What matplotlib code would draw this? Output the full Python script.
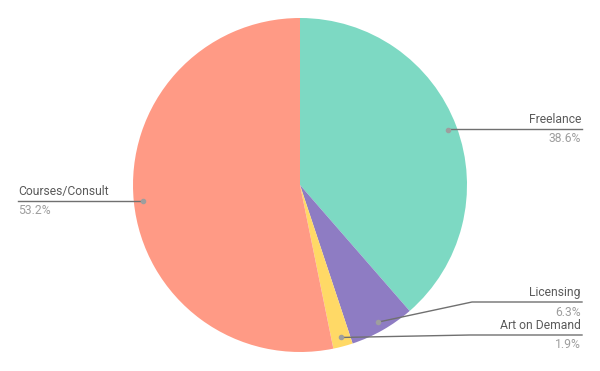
import numpy as np
import matplotlib.pyplot as plt

labels = ['Freelance', 'Licensing', 'Art on Demand', 'Courses/Consult']
values = [38.6, 6.3, 1.9, 53.2]
colors = ['#7dd9c3', '#8e7cc3', '#ffd966', '#ff9a85']

W, H = 600, 371
cx, cy, r = 300, H - 185, 167

fig = plt.figure(figsize=(6, 3.71), dpi=100)
ax = fig.add_axes([0, 0, 1, 1])
ax.pie(values, colors=colors, startangle=90, counterclock=False,
       center=(cx, cy), radius=r, frame=True,
       wedgeprops=dict(linewidth=0))
ax.set_xlim(0, W)
ax.set_ylim(0, H)
ax.set_aspect('equal')
ax.axis('off')

# label layout: (text x, line y, elbow x, alignment)
layout = {
    'Freelance': (581, H - 129, None, 'right'),
    'Licensing': (581, H - 302, 472, 'right'),
    'Art on Demand': (581, H - 335, 470, 'right'),
    'Courses/Consult': (18, H - 201, None, 'left'),
}

total = sum(values)
cum = 0
for lab, v in zip(labels, values):
    mid = (cum + v / 2) / total * 360
    cum += v
    ang = np.deg2rad(90 - mid)
    px = cx + 0.945 * r * np.cos(ang)
    py = cy + 0.945 * r * np.sin(ang)
    tx, ly, ex, ha = layout[lab]
    ax.plot(px, py, 'o', ms=3, color='#9e9e9e', zorder=5)
    if ha == 'right':
        if ex is None:
            xs, ys = [px, tx + 1], [ly, ly]
        else:
            xs, ys = [px, ex, tx + 1], [py, ly, ly]
    else:
        xs, ys = [tx, px], [ly, ly]
    ax.plot(xs, ys, color='#707070', lw=1, zorder=4)
    ax.text(tx, ly + 3, lab, ha=ha, va='bottom', fontsize=8.7,
            family='Roboto', color='#5a5a5a')
    ax.text(tx, ly - 3.5, f'{v}%', ha=ha, va='top', fontsize=8.7,
            family='Roboto', color='#9e9e9e')

fig.savefig('out.png', dpi=100)
